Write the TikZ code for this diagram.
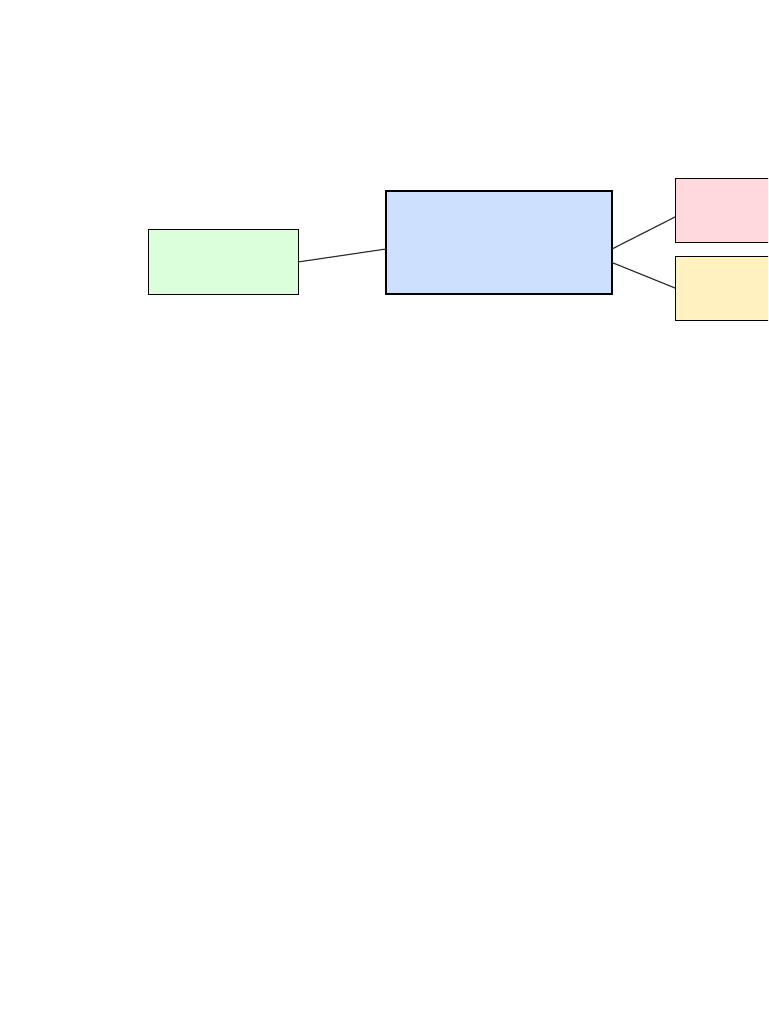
\documentclass[tikz,border=0pt]{standalone}
\usepackage{tikz}
\definecolor{mintgreen}{RGB}{218,255,218}
\definecolor{paleblue}{RGB}{205,225,255}
\definecolor{palepink}{RGB}{255,217,219}
\definecolor{paleyellow}{RGB}{255,242,192}
\definecolor{linkgrey}{RGB}{50,50,50}

\begin{document}
\begin{tikzpicture}[x=1pt, y=-1pt,
    box/.style={draw=black, inner sep=0pt, outer sep=0pt, minimum width=150pt, minimum height=64pt},
    link/.style={draw=linkgrey, line width=1.2pt}]
    % Page frame
    \useasboundingbox (0,0) rectangle (768,1024);
    \clip (0,0) rectangle (768,1024);

    % Boxes
    \node[box, fill=mintgreen, line width=1pt] (source) at (223,262) {};
    \node[box, fill=paleblue, line width=1.6pt, minimum width=226pt, minimum height=103pt] (hub) at (499,242.5) {};
    \node[box, fill=palepink, line width=1pt, anchor=west] (upper) at (675,210.5) {};
    \node[box, fill=paleyellow, line width=1pt, anchor=west] (lower) at (675,288) {};

    % Links
    \draw[link] (source.east) -- ([yshift=-6.5pt]hub.west);
    \draw[link] ([yshift=-6.5pt]hub.east) -- ([yshift=-6.5pt]upper.west);
    \draw[link] ([yshift=-20pt]hub.east) -- (lower.west);
\end{tikzpicture}
\end{document}
